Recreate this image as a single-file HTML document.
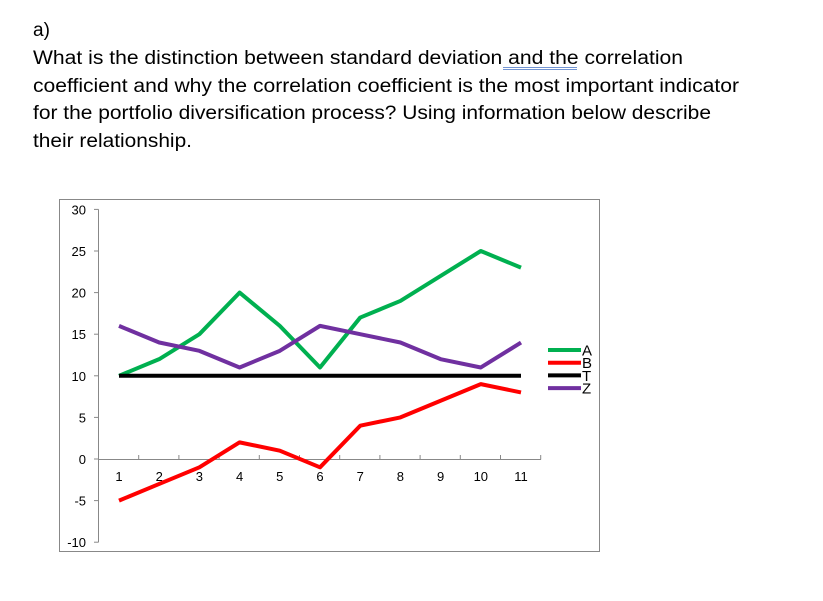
<!DOCTYPE html>
<html><head><meta charset="utf-8"><style>
body{margin:0;background:#fff;width:823px;height:601px;overflow:hidden}
svg{display:block}
</style></head><body>
<svg id="s" width="823" height="601" xmlns="http://www.w3.org/2000/svg" font-family="'Liberation Sans', sans-serif">
<g font-size="19" fill="#000">
<text x="33" y="36">a)</text>
<text x="33" y="64" textLength="650" lengthAdjust="spacingAndGlyphs">What is the distinction between standard deviation and  the correlation</text>
<text x="33" y="92" textLength="706" lengthAdjust="spacingAndGlyphs">coefficient and why the correlation coefficient is the most important indicator</text>
<text x="33" y="119" textLength="678" lengthAdjust="spacingAndGlyphs">for  the portfolio diversification process? Using information below describe</text>
<text x="33" y="147" textLength="159" lengthAdjust="spacingAndGlyphs">their relationship.</text>
<line x1="503" y1="67.5" x2="577" y2="67.5" stroke="#4472c4" stroke-width="0.8"/>
<line x1="503" y1="69.5" x2="577" y2="69.5" stroke="#4472c4" stroke-width="0.8"/>
</g>
<rect x="59.5" y="199.5" width="540" height="352" fill="#fff" stroke="#888"/>
<g id="chart"></g>
</svg>
<script>
const categories=[1,2,3,4,5,6,7,8,9,10,11];
const seriesA=[10,12,15,20,16,11,17,19,22,25,23];
const seriesB=[-5,-3,-1,2,1,-1,4,5,7,9,8];
const seriesT=[10,10,10,10,10,10,10,10,10,10,10];
const seriesZ=[16,14,13,11,13,16,15,14,12,11,14];
const yTicks=[30,25,20,15,10,5,0,-5,-10];
const seriesNames=['A','B','T','Z'];
const NS='http://www.w3.org/2000/svg';
const g=document.getElementById('chart');
const X=c=>119+(c-1)*40.2;
const Y=v=>459-v*8.32;
function mk(t,a){const e=document.createElementNS(NS,t);for(const k in a)e.setAttribute(k,a[k]);g.appendChild(e);return e;}
let ax=mk('line',{x1:98.5,y1:Y(30),x2:98.5,y2:Y(-10),stroke:'#888'});


yTicks.forEach(v=>{
 const t=mk('line',{x1:94,y1:Y(v),x2:98.5,y2:Y(v),stroke:'#888'});
 
 
 const l=mk('text',{x:86,y:Y(v)+5,'text-anchor':'end','font-size':13,fill:'#000'});
 l.textContent=v;
 
 
});
let xa=mk('line',{x1:98.5,y1:Y(0)+0.5,x2:541,y2:Y(0)+0.5,stroke:'#888'});


for(let i=0;i<=categories.length;i++){
 const x=98.5+i*40.2;
 const t=mk('line',{x1:x,y1:Y(0)-4,x2:x,y2:Y(0)+0.5,stroke:'#888'});
 
 
}
categories.forEach(c=>{
 const l=mk('text',{x:X(c),y:481,'text-anchor':'middle','font-size':13,fill:'#000'});
 l.textContent=c;
 
 
});
const colors=['#00b050','#ff0000','#000000','#7030a0'];
[seriesA,seriesB,seriesT,seriesZ].forEach((s,i)=>{
 const p=mk('polyline',{points:s.map((v,j)=>X(categories[j])+','+Y(v)).join(' '),fill:'none',stroke:colors[i],'stroke-width':4,'stroke-linejoin':'round'});
 
 
 const ly=350+i*12.7;
 const ll=mk('line',{x1:548,y1:ly,x2:581,y2:ly,stroke:colors[i],'stroke-width':4});
 
 
 const lt=mk('text',{x:582,y:ly+5.5,'font-size':15,fill:'#000'});
 lt.textContent=seriesNames[i];
 
 
});
</script>
</body></html>
